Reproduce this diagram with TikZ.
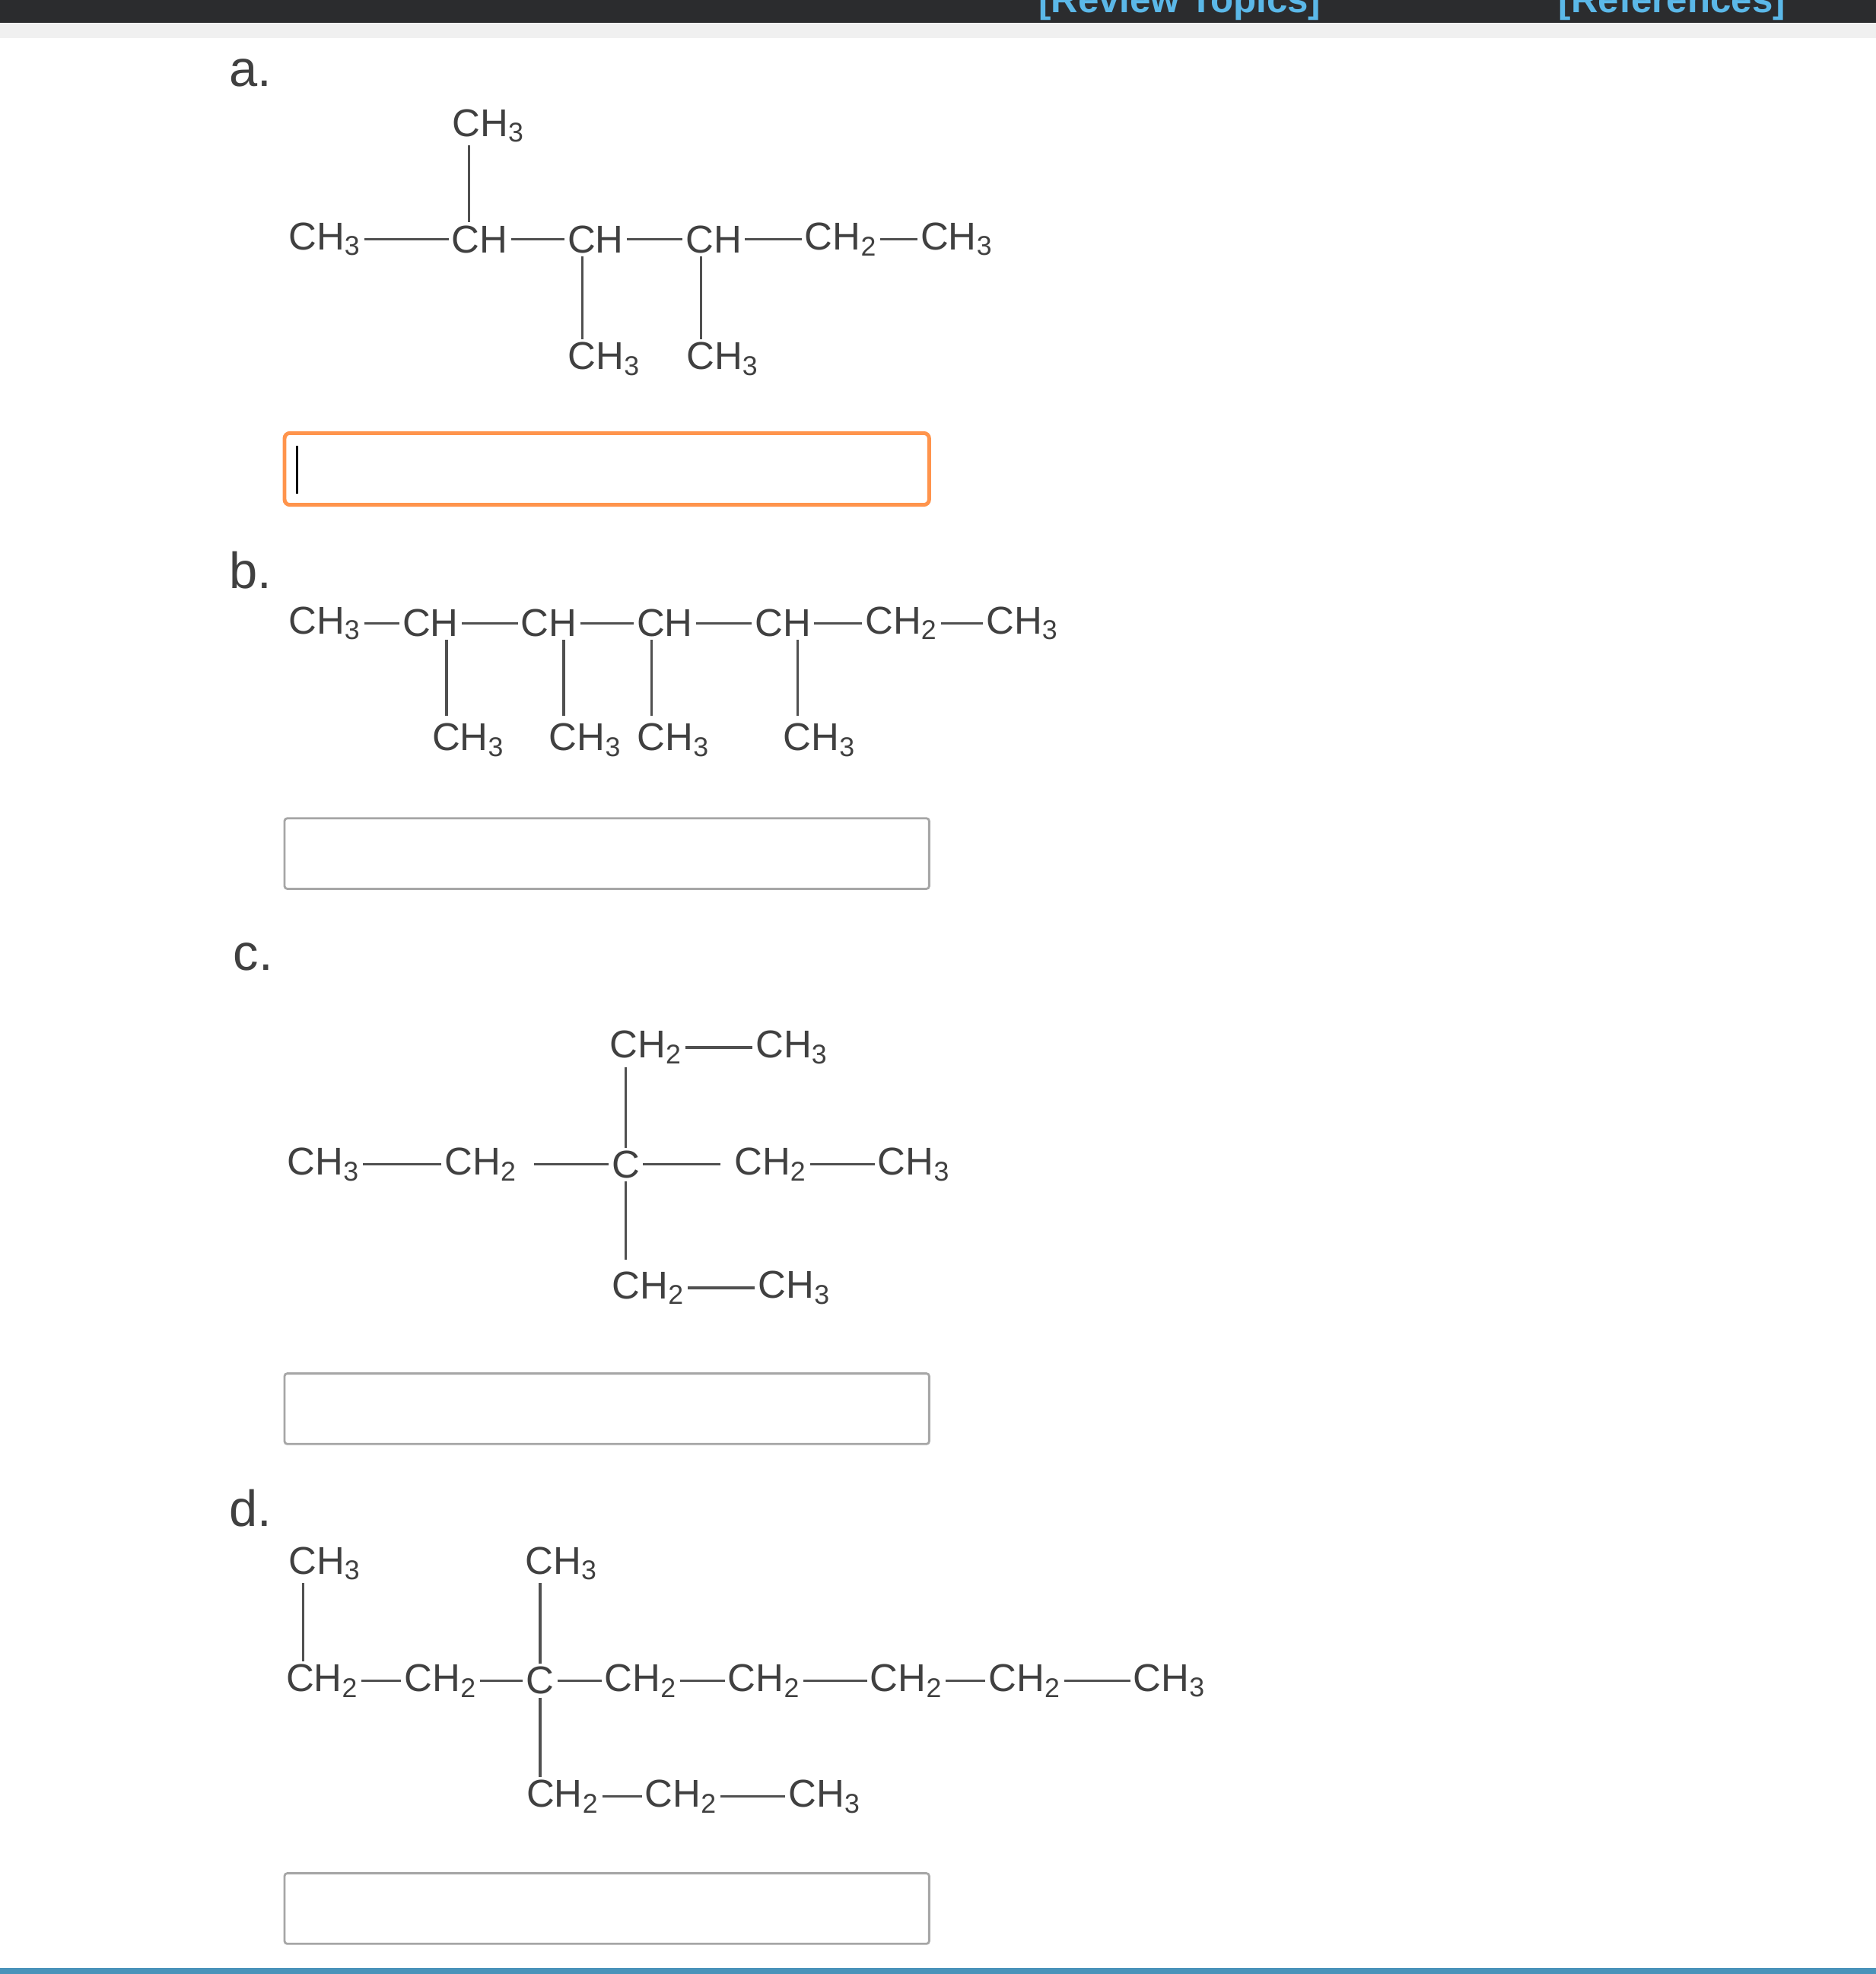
\documentclass[tikz,border=0pt]{standalone}
\usepackage{fontspec}
\setmainfont{Liberation Sans}
\usetikzlibrary{calc}
\newcommand\CHt{CH\textsubscript{3}}
\newcommand\CHd{CH\textsubscript{2}}
\definecolor{txt}{HTML}{404040}
\definecolor{bnd}{HTML}{505050}
\definecolor{bar}{HTML}{2B2C2E}
\definecolor{lnk}{HTML}{5BB8E8}
\begin{document}
\begin{tikzpicture}[x=0.1655mm,y=-0.1655mm,
  grp/.style={text=txt,font=\fontsize{14.5}{15}\selectfont,inner sep=1pt},
  lbl/.style={text=txt,font=\fontsize{19}{20}\selectfont,inner sep=0pt},
  bond/.style={draw=bnd,line width=0.9pt},
  ansbox/.style={draw=gray!70,line width=0.8pt,rounded corners=1pt,fill=white}]
\useasboundingbox (0,0) rectangle (1490,1568);
\fill[white] (0,0) rectangle (1490,1568);
\begin{scope}
\clip (0,0) rectangle (1490,18);
\fill[bar] (0,0) rectangle (1490,18);
\node[text=lnk,font=\bfseries\fontsize{14}{14}\selectfont,inner sep=0pt] (rt) at (937,2) {[Review Topics]};
\node[text=lnk,font=\bfseries\fontsize{14}{14}\selectfont,inner sep=0pt] (rf) at (1328,2) {[References]};
\end{scope}
\fill[gray!12] (0,18) rectangle (1490,30);
\fill[lnk!80!black] (0,1563) rectangle (1490,1568);
% labels
\node[lbl] (la) at (199,58) {a.};
\node[lbl] (lb) at (199,453) {b.};
\node[lbl] (lc) at (201,760) {c.};
\node[lbl] (ld) at (199,1198) {d.};
% ---- a
\node[grp] (a1) at (258,190) {\CHt};
\node[grp] (a2) at (381,190) {CH};
\node[grp] (a3) at (473,190) {CH};
\node[grp] (a4) at (567,190) {CH};
\node[grp] (a5) at (668,190) {\CHd};
\node[grp] (a6) at (760,190) {\CHt};
\node[grp] (at) at (388,100) {\CHt};
\node[grp] (ab1) at (480,285) {\CHt};
\node[grp] (ab2) at (574,285) {\CHt};
\draw[bond] (a1.east) -- (a2.west) (a2.east) -- (a3.west) (a3.east) -- (a4.west) (a4.east) -- (a5.west) (a5.east) -- (a6.west);
\draw[bond] ($(at.south west)+(16,0)$) coordinate (t) -- (t |- a2.north);
\draw[bond] ($(ab1.north west)+(14,0)$) coordinate (t) -- (t |- a3.south);
\draw[bond] ($(ab2.north west)+(14,0)$) coordinate (t) -- (t |- a4.south);
\draw[orange!80!red!70,line width=1.4pt,rounded corners=2pt] (226,344) rectangle (738,401);
\draw[black,line width=0.9pt] (236,354) -- (236,392);
% ---- b
\node[grp] (b1) at (258,495) {\CHt};
\node[grp] (b2) at (342,495) {CH};
\node[grp] (b3) at (436,495) {CH};
\node[grp] (b4) at (528,495) {CH};
\node[grp] (b5) at (622,495) {CH};
\node[grp] (b6) at (716,495) {\CHd};
\node[grp] (b7) at (812,495) {\CHt};
\node[grp] (bb1) at (372,588) {\CHt};
\node[grp] (bb2) at (465,588) {\CHt};
\node[grp] (bb3) at (535,588) {\CHt};
\node[grp] (bb4) at (651,588) {\CHt};
\draw[bond] (b1.east) -- (b2.west) (b2.east) -- (b3.west) (b3.east) -- (b4.west) (b4.east) -- (b5.west) (b5.east) -- (b6.west) (b6.east) -- (b7.west);
\draw[bond] ($(bb1.north west)+(14,-4)$) coordinate (t) -- (t |- b2.south);
\draw[bond] ($(bb2.north west)+(14,-4)$) coordinate (t) -- (t |- b3.south);
\draw[bond] ($(bb3.north west)+(14,-4)$) coordinate (t) -- (t |- b4.south);
\draw[bond] ($(bb4.north west)+(14,-4)$) coordinate (t) -- (t |- b5.south);
\draw[ansbox] (226,650) rectangle (738,706);
% ---- c
\node[grp] (c1) at (257,925) {\CHt};
\node[grp] (c2) at (382,925) {\CHd};
\node[grp] (c3) at (497,925) {C};
\node[grp] (c4) at (612,925) {\CHd};
\node[grp] (c5) at (726,925) {\CHt};
\node[grp] (ct1) at (513,832) {\CHd};
\node[grp] (ct2) at (629,832) {\CHt};
\node[grp] (cb1) at (515,1023) {\CHd};
\node[grp] (cb2) at (631,1023) {\CHt};
\draw[bond] (c1.east) -- (c2.west) ([xshift=5pt]c2.east) -- (c3.west) (c3.east) -- ([xshift=-4pt]c4.west) (c4.east) -- (c5.west);
\draw[bond] (ct1.east) -- (ct2.west) (cb1.east) -- (cb2.west);
\draw[bond] (c3.north) -- ++(0,-64);
\draw[bond] (c3.south) -- ++(0,62);
\draw[ansbox] (226,1091) rectangle (738,1147);
% ---- d
\node[grp] (d1) at (256,1335) {\CHd};
\node[grp] (d2) at (350,1335) {\CHd};
\node[grp] (d3) at (429,1335) {C};
\node[grp] (d4) at (509,1335) {\CHd};
\node[grp] (d5) at (607,1335) {\CHd};
\node[grp] (d6) at (720,1335) {\CHd};
\node[grp] (d7) at (814,1335) {\CHd};
\node[grp] (d8) at (929,1335) {\CHt};
\node[grp] (dt1) at (258,1242) {\CHt};
\node[grp] (dt2) at (446,1242) {\CHt};
\node[grp] (db1) at (447,1427) {\CHd};
\node[grp] (db2) at (541,1427) {\CHd};
\node[grp] (db3) at (655,1427) {\CHt};
\draw[bond] (d1.east) -- (d2.west) (d2.east) -- (d3.west) (d3.east) -- (d4.west) (d4.east) -- (d5.west) (d5.east) -- (d6.west) (d6.east) -- (d7.west) (d7.east) -- (d8.west);
\draw[bond] (db1.east) -- (db2.west) (db2.east) -- (db3.west);
\draw[bond] ($(dt1.south west)+(14,0)$) coordinate (t) -- (t |- d1.north);
\draw[bond] (d3.north) -- (d3.north |- dt2.south);
\draw[bond] (d3.south) -- (d3.south |- db1.north);
\draw[ansbox] (226,1488) rectangle (738,1544);
\end{tikzpicture}
\end{document}
